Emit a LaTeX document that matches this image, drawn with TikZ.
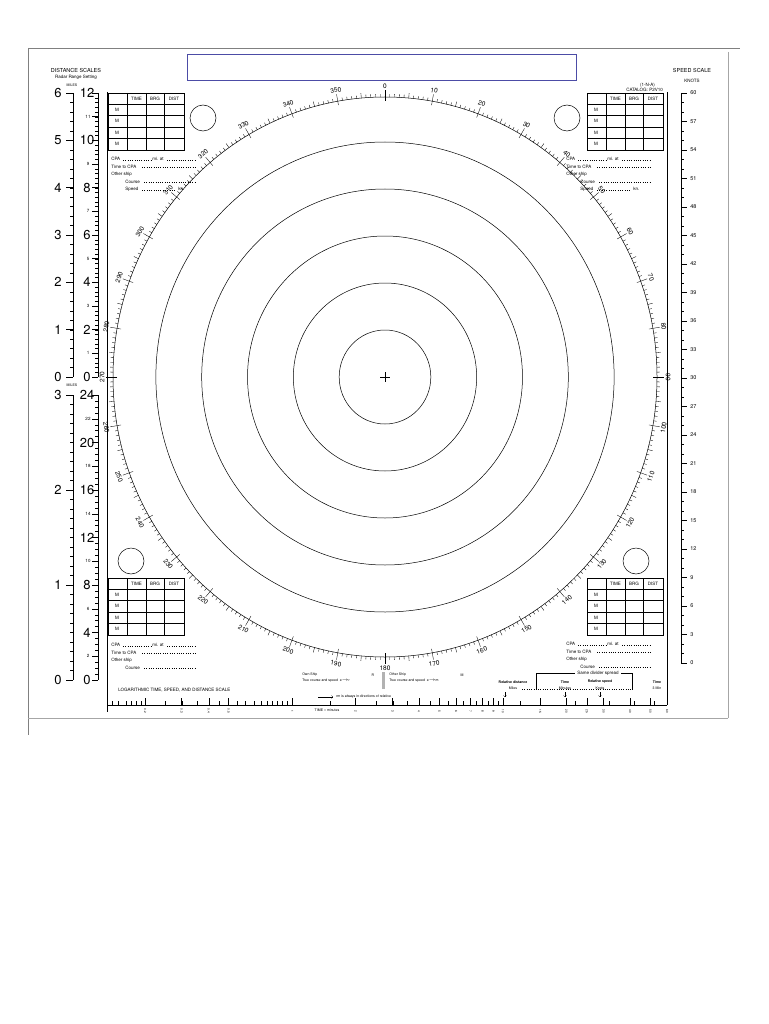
\documentclass[tikz,border=0pt]{standalone}
\usepackage{fontspec}
\setmainfont{TeX Gyre Heros}
\begin{document}
\begin{tikzpicture}[x=1pt,y=-1pt,line width=0.5pt,
  tiny/.style={font=\fontsize{4.5}{5}\selectfont,inner sep=0pt},
  small/.style={font=\fontsize{5.5}{6}\selectfont,inner sep=0pt},
  big/.style={font=\fontsize{13}{14}\selectfont,inner sep=0pt},
  deg/.style={font=\fontsize{6.5}{7}\selectfont,inner sep=0pt},
  dots/.style={dotted,line width=0.3pt}]
\useasboundingbox (0,0) rectangle (768,1024);
\fill[white] (0,0) rectangle (768,1024);
% frame
\draw[gray,line width=0.8pt] (28,48) -- (740,48);
\draw[gray,line width=0.8pt] (28,48) -- (28,735);
\draw[gray!70,line width=0.6pt] (28,718) -- (728,718);
\draw[gray!70,line width=0.6pt] (728,52) -- (728,718);
\node[draw=blue!50!black!70,line width=1pt,minimum width=389pt,minimum height=26pt,anchor=north west,inner sep=0pt] (title) at (187,54) {};
% inner frame
\draw (107,92) -- (107,712);
\draw (667,92) -- (667,700);
% circles
\coordinate (c) at (385,377);
\foreach \r in {47,94,141,188,235}{\draw (c) ellipse [x radius=0.975*\r, y radius=\r];}
\draw (c) ellipse [x radius=272, y radius=280];
\draw[line width=0.3pt] (380,377) -- (390,377) (385,372) -- (385,382);
% degree ticks
\foreach \a in {0,...,359}{
  \pgfmathsetmacro\d{ifthenelse(mod(\a,10)==0,7,ifthenelse(mod(\a,5)==0,5,3))}
  \pgfmathsetmacro\e{ifthenelse(mod(\a,10)==0,-4,0)}
  \draw[line width=0.35pt] ({385+(272+\e)*sin(\a)},{377-(280+\e)*cos(\a)}) -- ({385+(272+\d)*sin(\a)},{377-(280+\d)*cos(\a)});
}
\foreach \a in {0,10,...,350}{
  \pgfmathsetmacro\rot{ifthenelse(\a>90 && \a<270,180-\a,-\a)}
  \node[deg,rotate=\rot] (d\a) at ({385+(272+11)*sin(\a)},{377-(280+11)*cos(\a)}) {\a};
}
% corner small circles
\foreach \p/\n in {{(203,118)}/sa,{(567,118)}/sb,{(131,561)}/sc,{(636,561)}/sd}{\draw \p circle (13);}
% tables
\foreach \x/\y/\n in {108/93/ta,587/93/tb,108/578/tc,587/578/td}{
  \begin{scope}[shift={(\x,\y)}]
  \draw (0,0) rectangle (76,57);
  \draw (0,11) -- (76,11);
  \foreach \yy in {22.5,34,45.5}{\draw (0,\yy) -- (76,\yy);}
  \foreach \xx in {19,38,56}{\draw (\xx,0) -- (\xx,57);}
  \node[tiny] at (28.5,5.5) {TIME};
  \node[tiny] at (47,5.5) {BRG};
  \node[tiny] at (66,5.5) {DIST};
  \foreach \yy in {16.7,28.2,39.7,51.2}{\node[tiny] at (9,\yy) {M};}
  \end{scope}}
% CPA blocks
\foreach \x/\y/\sp in {111/159/1,566/159/1,111/645/0,566/644/0}{
  \begin{scope}[shift={(\x,\y)}]
  \node[tiny,anchor=west] at (0,0) {CPA};
  \draw[dots] (12,1) -- (40,1); \node[tiny,anchor=west] at (41,0) {mi. at};
  \draw[dots] (56,1) -- (85,1);
  \node[tiny,anchor=west] at (0,7.5) {Time to CPA};
  \draw[dots] (31,8.5) -- (85,8.5);
  \node[tiny,anchor=west] at (0,15) {Other ship};
  \node[tiny,anchor=west] at (14,22.5) {Course};
  \draw[dots] (33,23.5) -- (85,23.5);
  \ifnum\sp=1
  \node[tiny,anchor=west] at (14,30) {Speed};
  \draw[dots] (31,31) -- (64,31); \node[tiny,anchor=west] at (67,30) {kn.};
  \fi
  \end{scope}}
\node[tiny,anchor=east] at (655,85) {(1-N-A)};
\node[tiny,anchor=east] at (663,90) {CATALOG: P2V10};
% distance scales
\node[small] at (76,70) {DISTANCE SCALES};
\node[tiny] at (76,77) {Radar Range Setting};
\node[font=\fontsize{3.5}{4}\selectfont,inner sep=0pt] at (72,85) {MILES};
\node[font=\fontsize{3.5}{4}\selectfont,inner sep=0pt] at (72,385) {MILES};
\draw (73,93) -- (73,377);
\draw (98,93) -- (98,377);
\foreach \k in {0,...,6}{
  \node[big] at (58,{93+47.33*(6-\k)}) {\k};
  \draw (66,{93+47.33*(6-\k)}) -- (73,{93+47.33*(6-\k)});}
\foreach \k in {0,...,30}{\draw[line width=0.3pt] (70,{93+9.467*\k}) -- (73,{93+9.467*\k});}
\foreach \k in {0,...,12}{
  \pgfmathtruncatemacro\ev{mod(\k,2)}
  \ifnum\ev=0 \node[big] at (87,{93+23.67*(12-\k)}) {\k};
  \else \node[tiny] at (88,{93+23.67*(12-\k)}) {\k}; \fi
  \draw (92,{93+23.67*(12-\k)}) -- (98,{93+23.67*(12-\k)});}
\foreach \k in {0,...,60}{\draw[line width=0.3pt] (95,{93+4.733*\k}) -- (98,{93+4.733*\k});}
\draw (73,395) -- (73,680);
\draw (98,395) -- (98,680);
\foreach \k in {0,...,3}{
  \node[big] at (58,{395+95*(3-\k)}) {\k};
  \draw (66,{395+95*(3-\k)}) -- (73,{395+95*(3-\k)});}
\foreach \k in {0,...,30}{\draw[line width=0.3pt] (70,{395+9.5*\k}) -- (73,{395+9.5*\k});}
\foreach \k in {0,2,...,24}{
  \pgfmathtruncatemacro\ev{mod(\k,4)}
  \ifnum\ev=0 \node[big] at (87,{395+11.875*(24-\k)}) {\k};
  \else \node[tiny] at (88,{395+11.875*(24-\k)}) {\k}; \fi
  \draw (92,{395+11.875*(24-\k)}) -- (98,{395+11.875*(24-\k)});}
\foreach \k in {0,...,48}{\draw[line width=0.3pt] (95,{395+5.9375*\k}) -- (98,{395+5.9375*\k});}
% speed scale
\node[small] at (692,70) {SPEED SCALE};
\node[tiny] at (692,81) {KNOTS};
\draw (681,93) -- (681,663);
\foreach \k in {0,3,...,60}{
  \node[small,anchor=west] at (690,{93+9.5*(60-\k)}) {\k};
  \draw (681,{93+9.5*(60-\k)}) -- (687,{93+9.5*(60-\k)});}
\foreach \k in {0,...,60}{\draw[line width=0.3pt] (681,{93+9.5*\k}) -- (684,{93+9.5*\k});}
% bottom texts
\node[tiny,anchor=west] at (118,690) {LOGARITHMIC TIME, SPEED, AND DISTANCE SCALE};
\node[font=\fontsize{3.5}{4}\selectfont,inner sep=0pt,anchor=west] at (302,675) {Own Ship};
\node[font=\fontsize{3.5}{4}\selectfont,inner sep=0pt] at (373,675) {R};
\node[font=\fontsize{3.5}{4}\selectfont,inner sep=0pt,anchor=west] at (302,681) {True course and speed \ e$\to$r};
\fill[gray!60] (382,672) rectangle (385,689);
\node[font=\fontsize{3.5}{4}\selectfont,inner sep=0pt,anchor=west] at (389,675) {Other Ship};
\node[font=\fontsize{3.5}{4}\selectfont,inner sep=0pt] at (462,675) {M};
\node[font=\fontsize{3.5}{4}\selectfont,inner sep=0pt,anchor=west] at (389,681) {True course and speed \ e$\to$m};
\draw[->,line width=0.3pt] (318,697) -- (333,697);
\node[font=\fontsize{3.5}{4}\selectfont,inner sep=0pt,anchor=west] at (336,697) {rm is always in directions of relative};
\node[tiny] at (598,673) {Same divider spread};
\draw[line width=0.3pt] (536,689) -- (536,673) -- (575,673) (621,673) -- (632,673) -- (632,689);
\foreach \x/\t/\u in {513/Relative distance/Miles,565/Time/Minutes,600/Relative speed/Knots,657/Time/3 Min}{
  \node[font=\fontsize{3.5}{4}\selectfont\bfseries,inner sep=0pt] at (\x,682) {\t};
  \node[font=\fontsize{3.5}{4}\selectfont,inner sep=0pt] at (\x,688) {\u};}
\draw[dots] (522,689) -- (633,689);
\foreach \x in {505,565,600}{\draw[->,line width=0.3pt] (\x,692) -- (\x,697);}
% log scale
\draw (107,705) -- (667,705);
\foreach \m in {0.14,0.15,...,0.2,0.25,0.3,...,1,1.5,2,...,10,12,...,60}{
  \pgfmathsetmacro\xx{503+211*log10(\m/10)}
  \draw[line width=0.3pt] (\xx,705) -- (\xx,701);}
\foreach \m in {0.2,0.3,0.4,0.5,1,2,3,4,5,6,7,8,9,10,15,20,25,30,40,50,60}{
  \pgfmathsetmacro\xx{503+211*log10(\m/10)}
  \draw[line width=0.4pt] (\xx,705) -- (\xx,698);
  \node[font=\fontsize{3}{3}\selectfont,inner sep=0pt,rotate=-90] at (\xx,711) {\m};}
\node[font=\fontsize{3.5}{4}\selectfont,inner sep=0pt] at (327,710) {TIME = minutes};
\end{tikzpicture}
\end{document}
